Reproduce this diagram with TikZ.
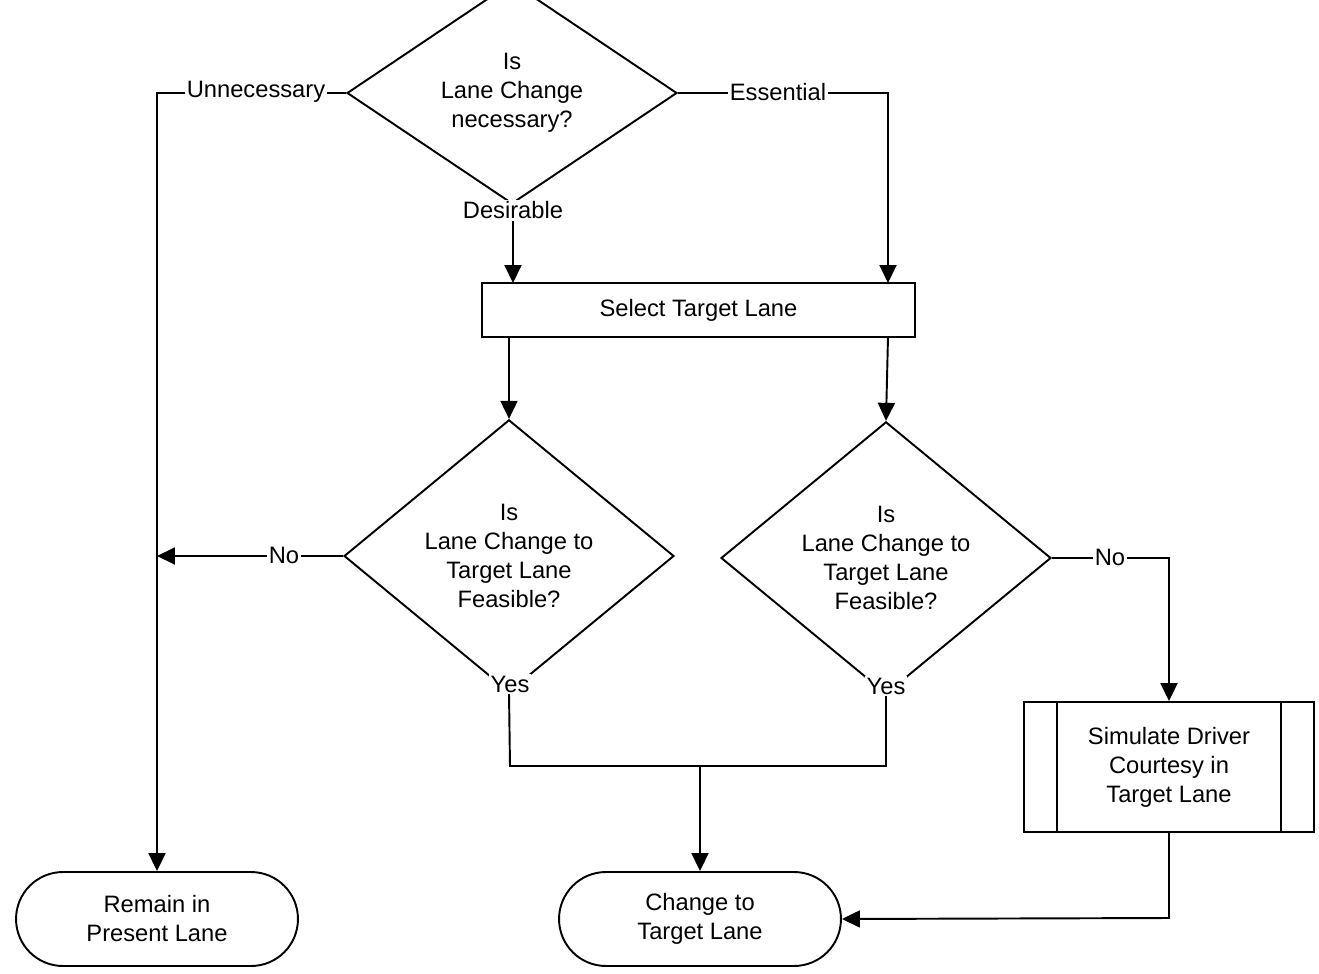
\documentclass[tikz,border=0pt]{standalone}
\usepackage{fontspec}
\setmainfont{Liberation Sans}
\usetikzlibrary{shapes.geometric,arrows.meta}
\begin{document}
\begin{tikzpicture}[x=0.02cm,y=-0.02cm,line width=1.1pt,
  every node/.style={font=\fontsize{13.5}{16.5}\selectfont},
  dia/.style={diamond,draw,inner sep=0pt,minimum width=6.6cm,minimum height=4.1cm,align=center},
  term/.style={draw,rounded corners=0.94cm,minimum width=5.64cm,minimum height=1.88cm,align=center},
  lbl/.style={fill=white,inner sep=1pt},
  arr/.style={-{Triangle[length=0.36cm,width=0.34cm]}}]
\useasboundingbox (0,0) rectangle (1319,974);
\node[dia] (d0) at (512,93) {Is\\Lane Change\\necessary?};
\node[draw,minimum width=8.66cm,minimum height=1.08cm] (sel) at (698.5,310) {Select Target Lane};
\node[dia,minimum height=4.16cm] (d1) at (509,556) {Is\\Lane Change to\\Target Lane\\Feasible?};
\node[dia,minimum height=4.16cm] (d2) at (886,558) {Is\\Lane Change to\\Target Lane\\Feasible?};
\node[term] (rem) at (157,919) {Remain in\\Present Lane};
\node[term] (chg) at (700,919) {Change to\\Target Lane};
\node[draw,minimum width=5.8cm,minimum height=2.6cm,align=center] (sim) at (1169,767) {Simulate Driver\\Courtesy in\\Target Lane};
\draw ([xshift=0.68cm]sim.north west) -- ([xshift=0.68cm]sim.south west);
\draw ([xshift=-0.68cm]sim.north east) -- ([xshift=-0.68cm]sim.south east);
\coordinate (m) at (700,766);
% top decision
\draw[arr] (d0.west) -- (157,93) -- (rem.north);
\node[lbl] at (256,92) {Unnecessary};
\draw[arr] (d0.east) -- (888,93) -- (888,283);
\node[lbl] at (778,92) {Essential};
\draw (d0.south) -- (513,200);
\node[lbl] (des) at (513,210) {Desirable};
\draw[arr] (des.south) -- (513,283);
% select to diamonds
\draw[arr] (509,337) -- (d1.north);
\draw[arr] (888,337) -- (d2.north);
% No branches
\draw[arr] (d1.west) -- (157,556);
\node[lbl] at (284,555) {No};
\draw[arr] (d2.east) -- (1169,558) -- (sim.north);
\node[lbl] at (1110,557) {No};
% Yes branches
\draw (d1.south) -- (510,766) -- (886,766) -- (d2.south);
\node[lbl] at (510,684) {Yes};
\node[lbl] at (886,686) {Yes};
\draw[arr] (m) -- (chg.north);
\draw[arr] (sim.south) -- (1169,918) -- (chg.east);
\end{tikzpicture}
\end{document}
